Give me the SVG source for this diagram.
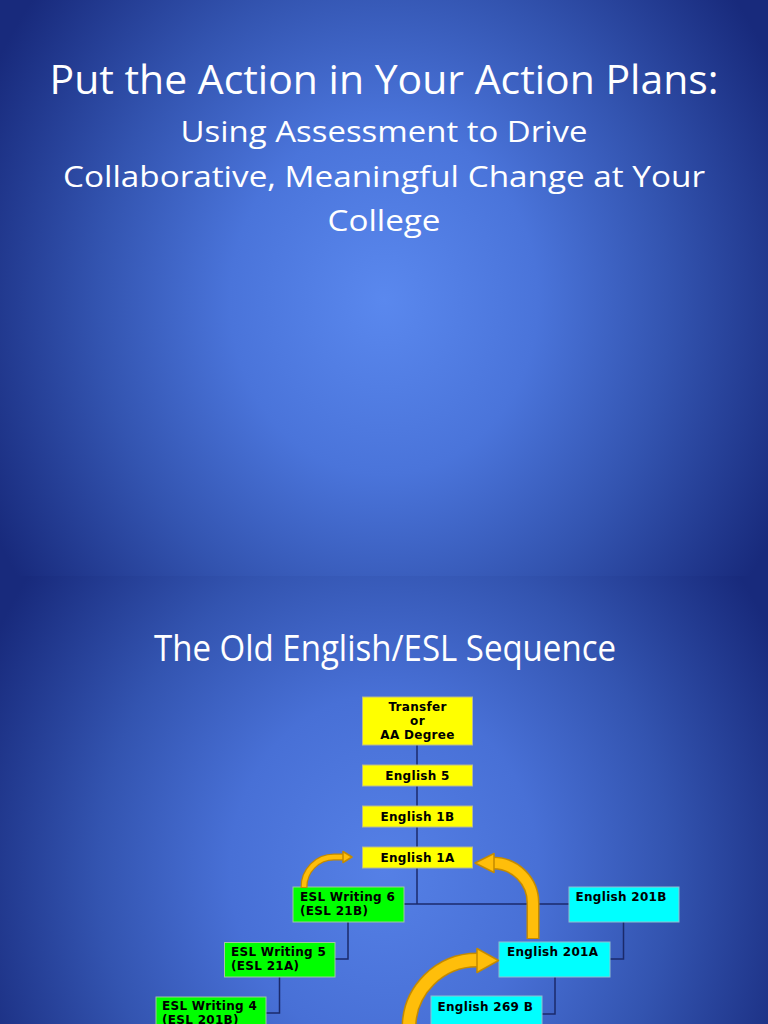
<svg xmlns="http://www.w3.org/2000/svg" width="768" height="1024" viewBox="0 0 768 1024">
<defs>
<radialGradient id="bg1" gradientUnits="userSpaceOnUse" cx="0" cy="0" r="1" gradientTransform="translate(384,300) scale(440,500)">
<stop offset="0" stop-color="#5a88ee"/>
<stop offset="0.35" stop-color="#4a74da"/>
<stop offset="0.65" stop-color="#3354b0"/>
<stop offset="1" stop-color="#182a7c"/>
</radialGradient>
<radialGradient id="bg2" gradientUnits="userSpaceOnUse" cx="0" cy="0" r="1" gradientTransform="translate(384,870) scale(440,500)">
<stop offset="0" stop-color="#5580e6"/>
<stop offset="0.35" stop-color="#4870d6"/>
<stop offset="0.65" stop-color="#3354b0"/>
<stop offset="1" stop-color="#182a7c"/>
</radialGradient>
<style>
.title{font-family:"Open Sans","Liberation Sans",sans-serif;fill:#ffffff;text-anchor:middle}
.lbl{font-family:"DejaVu Sans","Liberation Sans",sans-serif;font-weight:bold;font-size:12px;letter-spacing:0.3px;fill:#000}
.mid{text-anchor:middle}
.yel{fill:#ffff00;stroke:#b8b890;stroke-width:1}
.grn{fill:#00ff00;stroke:#a0c8a0;stroke-width:1}
.cyn{fill:#00ffff;stroke:#90c0d0;stroke-width:1}
.con{fill:none;stroke:#1b2a6b;stroke-width:1.5}
.arO{fill:none;stroke:#c48a00}
.arI{fill:none;stroke:#ffbe0a}
.head{fill:#ffbe0a;stroke:#c48a00;stroke-width:1.5;stroke-linejoin:round}
</style>
</defs>
<rect x="0" y="0" width="768" height="576" fill="url(#bg1)"/>
<rect x="0" y="576" width="768" height="576" fill="url(#bg2)"/>

<g id="slide1-title">
<text class="title" x="384" y="94" font-size="41" textLength="669" lengthAdjust="spacingAndGlyphs">Put the Action in Your Action Plans:</text>
<text class="title" x="384" y="142" font-size="29" textLength="407" lengthAdjust="spacingAndGlyphs">Using Assessment to Drive</text>
<text class="title" x="384" y="187" font-size="29" textLength="642" lengthAdjust="spacingAndGlyphs">Collaborative, Meaningful Change at Your</text>
<text class="title" x="384" y="231" font-size="29" textLength="113" lengthAdjust="spacingAndGlyphs">College</text>
</g>
<g id="slide2-title">
<text class="title" x="385" y="661" font-size="36" textLength="462" lengthAdjust="spacingAndGlyphs">The Old English/ESL Sequence</text>
</g>

<g id="connectors">
<path class="con" d="M417,745 V904"/>
<path class="con" d="M404,904 H569"/>
<path class="con" d="M348,922 V959 H335"/>
<path class="con" d="M279.5,977 V1013 H266"/>
<path class="con" d="M623.5,922 V959 H610"/>
<path class="con" d="M555,977 V1014 H542"/>
</g>

<g id="transfer"><rect class="yel" x="362.5" y="697" width="110" height="48"/>
<text class="lbl mid" x="417.5" y="711">Transfer</text>
<text class="lbl mid" x="417.5" y="725">or</text>
<text class="lbl mid" x="417.5" y="739">AA Degree</text></g>
<g id="english5"><rect class="yel" x="362.5" y="765" width="110" height="21"/>
<text class="lbl mid" x="417.5" y="780">English 5</text></g>
<g id="english1b"><rect class="yel" x="362.5" y="806" width="110" height="21"/>
<text class="lbl mid" x="417.5" y="821">English 1B</text></g>
<g id="english1a"><rect class="yel" x="362.5" y="847" width="110" height="21"/>
<text class="lbl mid" x="417.5" y="862">English 1A</text></g>

<g id="esl6"><rect class="grn" x="293" y="887" width="111" height="35"/>
<text class="lbl" x="300" y="901">ESL Writing 6</text>
<text class="lbl" x="300" y="915">(ESL 21B)</text></g>
<g id="esl5"><rect class="grn" x="224.5" y="942.5" width="110.5" height="34.5"/>
<text class="lbl" x="231" y="956">ESL Writing 5</text>
<text class="lbl" x="231" y="970">(ESL 21A)</text></g>
<g id="esl4"><rect class="grn" x="156" y="997" width="110" height="35"/>
<text class="lbl" x="162" y="1010">ESL Writing 4</text>
<text class="lbl" x="162" y="1024">(ESL 201B)</text></g>

<g id="english201b"><rect class="cyn" x="569" y="887" width="110" height="35"/>
<text class="lbl" x="575.5" y="901">English 201B</text></g>
<g id="english201a"><rect class="cyn" x="499" y="942" width="111" height="35"/>
<text class="lbl" x="507" y="956">English 201A</text></g>
<g id="english269b"><rect class="cyn" x="431" y="996" width="111" height="35"/>
<text class="lbl" x="437.5" y="1011">English 269 B</text></g>

<g id="arrows">
<path class="arO" stroke-width="7" d="M304,888 A30,30 0 0 1 334,857 L344,857"/>
<path class="arI" stroke-width="4.5" d="M304,887 A30,30 0 0 1 334,857 L344,857"/>
<polygon class="head" points="343,851.5 352,857 343,862.5"/>

<path class="arO" stroke-width="13" d="M533,939 V903 A40,40 0 0 0 493,863 H490"/>
<path class="arI" stroke-width="10" d="M533,938 V903 A40,40 0 0 0 493,863 H490"/>
<polygon class="head" points="494,853.5 475,863 494,872.5"/>

<path class="arO" stroke-width="15" d="M409,1040 V1028 A68,68 0 0 1 477,960 H480"/>
<path class="arI" stroke-width="12" d="M409,1040 V1028 A68,68 0 0 1 477,960 H480"/>
<polygon class="head" points="477,948.5 498.5,960.5 477,972.5"/>
</g>
</svg>
